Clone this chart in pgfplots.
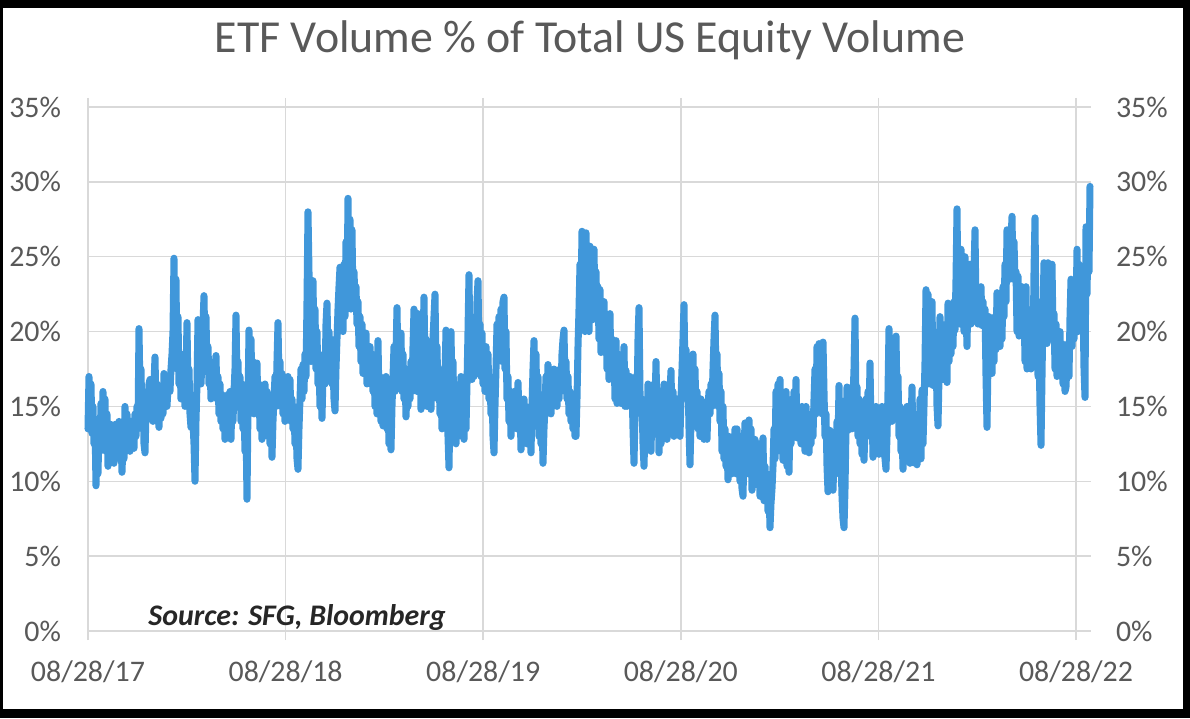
\documentclass[border=0pt]{standalone}
\usepackage{fontspec}
\setmainfont{Carlito}
\usepackage{pgfplots}
\pgfplotsset{compat=1.18}
\usepackage{pgfplotstable}
\definecolor{etfblue}{RGB}{64,151,218}
\definecolor{gridgrey}{RGB}{217,217,217}
\definecolor{labgrey}{RGB}{89,89,89}
\definecolor{srcgrey}{RGB}{38,38,38}
% px = horizontal position (197.6 per year, 88 = 08/28/17), v = ETF share of volume in %
\pgfplotstableread{
px v
88 13.5
89 17.0
90 14.0
91 16.5
92 13.2
93 15.0
94 12.5
95 14.0
96 9.7
97 12.0
98 10.5
99 13.5
100 12.0
101 15.2
102 13.0
103 16.0
104 13.5
105 15.5
106 12.0
107 14.5
108 11.0
109 13.5
110 11.5
111 13.8
112 12.0
113 13.6
114 11.2
115 13.8
116 11.8
117 13.5
118 12.5
119 14.0
120 11.5
121 13.0
122 10.6
123 12.5
124 11.5
125 15.0
126 12.0
127 14.5
128 12.5
129 14.0
130 12.0
131 14.0
132 12.8
133 13.8
134 12.2
135 14.5
136 13.0
137 15.0
138 13.5
139 20.2
140 16.0
141 17.5
142 14.0
143 16.0
144 12.5
145 11.9
146 14.5
147 16.0
148 14.8
149 16.5
150 16.8
151 14.5
152 15.5
153 14.0
154 16.5
155 18.3
156 15.0
157 16.5
158 14.5
159 13.6
160 15.5
161 14.2
162 16.0
163 14.5
164 17.2
165 15.5
166 16.8
167 15.0
168 16.2
169 17.0
170 16.0
171 17.5
172 18.5
173 20.0
174 24.9
175 19.0
176 23.5
177 17.5
178 21.0
179 16.5
180 18.5
181 15.5
182 17.5
183 16.0
184 18.5
185 15.0
186 17.0
187 20.6
188 16.0
189 17.5
190 14.5
191 13.6
192 15.5
193 14.0
194 12.5
195 10.0
196 14.0
197 16.5
198 20.8
199 17.0
200 19.5
201 16.5
202 18.0
203 20.5
204 22.4
205 18.5
206 21.0
207 17.5
208 19.0
209 16.5
210 18.0
211 15.5
212 17.0
213 16.0
214 17.5
215 16.5
216 18.4
217 15.5
218 17.0
219 14.5
220 16.5
221 14.0
222 15.8
223 13.5
224 15.5
225 12.8
226 14.5
227 13.0
228 15.8
229 13.5
230 16.0
231 12.8
232 15.5
233 14.0
234 16.0
235 17.5
236 21.1
237 16.5
238 18.0
239 15.0
240 17.0
241 14.0
242 16.5
243 13.5
244 15.0
245 12.0
246 14.0
247 8.8
248 15.0
249 20.1
250 17.0
251 19.5
252 16.0
253 18.0
254 14.5
255 17.0
256 15.0
257 17.9
258 14.5
259 16.5
260 13.5
261 15.5
262 12.8
263 15.0
264 13.5
265 16.5
266 14.5
267 16.0
268 13.0
269 15.5
270 12.5
271 14.5
272 11.6
273 14.0
274 15.5
275 17.0
276 15.0
277 18.0
278 20.6
279 16.5
280 18.0
281 15.0
282 17.2
283 14.5
284 16.5
285 14.0
286 16.0
287 14.5
288 17.0
289 15.0
290 16.8
291 14.0
292 15.5
293 13.5
294 15.0
295 12.5
296 14.0
297 11.5
298 10.8
299 13.5
300 15.5
301 17.5
302 15.5
303 17.8
304 16.0
305 18.5
306 17.0
307 22.0
308 28.0
309 24.0
310 20.0
311 18.0
312 21.0
313 23.4
314 19.0
315 21.5
316 17.5
317 20.0
318 16.5
319 18.0
320 15.0
321 16.5
322 14.2
323 17.0
324 18.5
325 16.5
326 20.5
327 21.9
328 18.5
329 20.0
330 17.5
331 19.5
332 16.5
333 18.0
334 15.5
335 14.7
336 17.5
337 19.5
338 21.5
339 23.0
340 24.3
341 20.5
342 23.5
343 20.0
344 24.5
345 21.0
346 26.0
347 22.0
348 28.9
349 23.0
350 27.5
351 21.5
352 26.8
353 22.0
354 24.0
355 22.1
356 23.0
357 20.5
358 22.0
359 19.0
360 21.0
361 18.0
362 20.5
363 17.2
364 19.5
365 17.5
366 19.9
367 16.5
368 18.5
369 17.0
370 19.0
371 16.5
372 18.5
373 16.0
374 18.0
375 15.0
376 17.5
377 14.5
378 19.4
379 15.5
380 17.0
381 14.0
382 16.5
383 13.7
384 16.0
385 14.5
386 17.0
387 13.5
388 15.5
389 12.5
390 14.5
391 12.1
392 15.0
393 17.0
394 19.0
395 16.0
396 18.5
397 21.6
398 17.5
399 19.5
400 16.5
401 19.9
402 16.0
403 18.5
404 15.5
405 17.5
406 14.3
407 16.0
408 15.0
409 17.5
410 15.5
411 18.0
412 16.0
413 19.0
414 21.5
415 17.5
416 20.0
417 16.0
418 21.2
419 17.0
420 19.5
421 14.8
422 17.5
423 19.0
424 22.3
425 17.5
426 19.5
427 15.0
428 17.5
429 15.5
430 18.0
431 14.8
432 17.0
433 19.5
434 21.0
435 22.5
436 17.5
437 19.0
438 15.5
439 17.5
440 14.5
441 16.5
442 13.5
443 16.0
444 14.0
445 17.0
446 20.1
447 15.0
448 13.0
449 10.9
450 15.0
451 20.0
452 16.0
453 18.0
454 14.0
455 16.5
456 12.5
457 15.0
458 13.0
459 16.0
460 14.0
461 17.0
462 13.5
463 15.5
464 12.8
465 15.0
466 13.5
467 16.5
468 20.0
469 23.8
470 18.5
471 20.5
472 16.8
473 19.0
474 17.0
475 21.0
476 18.0
477 22.0
478 23.4
479 18.5
480 20.5
481 17.0
482 19.9
483 16.5
484 18.5
485 16.0
486 19.0
487 17.0
488 18.5
489 15.5
490 17.0
491 14.5
492 16.5
493 13.0
494 11.9
495 15.0
496 17.5
497 20.5
498 18.5
499 21.0
500 19.0
501 21.5
502 18.0
503 22.0
504 22.3
505 17.5
506 20.0
507 15.5
508 17.0
509 14.0
510 16.0
511 13.0
512 15.0
513 14.5
514 16.0
515 14.0
516 15.5
517 13.5
518 16.6
519 14.5
520 15.5
521 12.1
522 14.5
523 13.0
524 15.5
525 13.5
526 15.0
527 12.5
528 14.0
529 12.5
530 14.5
531 11.9
532 15.0
533 17.5
534 19.4
535 16.0
536 18.5
537 14.5
538 17.0
539 13.0
540 15.5
541 12.5
542 14.5
543 11.2
544 13.5
545 15.0
546 17.0
547 15.5
548 17.8
549 15.0
550 17.0
551 14.5
552 16.5
553 15.0
554 17.5
555 15.5
556 17.0
557 15.0
558 16.5
559 15.5
560 17.5
561 16.0
562 18.5
563 19.5
564 20.1
565 16.5
566 18.0
567 15.5
568 17.0
569 14.5
570 16.0
571 14.0
572 15.5
573 13.5
574 14.5
575 13.0
576 13.0
577 15.5
578 19.0
579 21.5
580 24.5
581 22.0
582 26.7
583 20.5
584 25.5
585 20.0
586 26.6
587 21.0
588 24.0
589 20.0
590 25.7
591 21.0
592 24.5
593 20.8
594 25.5
595 21.5
596 24.0
597 21.0
598 23.0
599 19.5
600 22.8
601 18.6
602 21.5
603 19.0
604 22.0
605 18.8
606 21.0
607 17.5
608 20.5
609 16.8
610 21.2
611 17.0
612 19.5
613 16.8
614 19.0
615 15.5
616 19.4
617 15.2
618 18.5
619 16.0
620 18.0
621 15.2
622 17.5
623 15.5
624 19.0
625 15.0
626 17.4
627 15.0
628 16.5
629 15.5
630 17.0
631 15.0
632 16.5
633 13.5
634 11.2
635 14.5
636 17.0
637 15.0
638 19.5
639 21.6
640 16.0
641 14.5
642 15.5
643 12.5
644 11.0
645 13.5
646 15.0
647 13.0
648 16.5
649 14.5
650 16.0
651 12.0
652 15.0
653 14.0
654 16.5
655 15.0
656 18.0
657 14.5
658 16.0
659 11.9
660 14.5
661 12.5
662 16.0
663 13.0
664 16.5
665 13.0
666 15.5
667 12.8
668 15.5
669 14.0
670 16.0
671 17.4
672 14.0
673 16.0
674 13.0
675 15.0
676 13.5
677 15.5
678 13.5
679 15.0
680 13.0
681 15.5
682 17.5
683 19.5
684 21.8
685 17.0
686 18.8
687 15.5
688 17.0
689 13.5
690 11.1
691 14.0
692 16.5
693 18.5
694 15.0
695 17.5
696 14.5
697 16.0
698 13.5
699 15.5
700 13.0
701 15.5
702 13.5
703 15.0
704 12.8
705 14.0
706 13.5
707 12.8
708 15.0
709 16.0
710 14.5
711 16.5
712 15.0
713 17.5
714 19.5
715 21.1
716 17.0
717 18.5
718 15.0
719 17.2
720 14.0
721 16.0
722 12.0
723 15.0
724 11.5
725 13.5
726 11.0
727 12.5
728 10.1
729 13.0
730 10.8
731 12.5
732 10.5
733 13.0
734 11.0
735 13.5
736 10.5
737 13.5
738 11.0
739 12.5
740 10.0
741 13.0
742 9.5
743 9.0
744 12.0
745 13.9
746 11.5
747 13.0
748 10.5
749 14.1
750 11.0
751 13.5
752 9.4
753 12.5
754 10.5
755 12.8
756 9.8
757 12.0
758 10.0
759 12.5
760 9.0
761 11.5
762 9.5
763 12.9
764 8.7
765 11.0
766 9.0
767 10.5
768 8.0
769 9.5
770 6.9
771 8.5
772 9.5
773 11.0
774 13.5
775 11.5
776 16.0
777 12.0
778 16.5
779 13.0
780 16.8
781 12.5
782 15.5
783 11.4
784 14.5
785 12.0
786 16.0
787 11.0
788 13.5
789 10.6
790 14.0
791 12.5
792 15.5
793 13.0
794 16.0
795 14.0
796 16.8
797 12.9
798 15.0
799 13.5
800 14.5
801 12.5
802 15.0
803 13.5
804 14.0
805 12.0
806 15.0
807 13.0
808 14.5
809 11.9
810 13.5
811 12.5
812 14.0
813 13.0
814 15.5
815 17.5
816 14.5
817 19.0
818 15.0
819 19.2
820 15.5
821 17.5
822 14.5
823 19.3
824 16.0
825 13.0
826 14.5
827 11.0
828 9.3
829 12.0
830 13.4
831 10.0
832 12.5
833 9.4
834 11.5
835 13.0
836 10.5
837 14.0
838 12.5
839 16.4
840 13.0
841 11.5
842 9.0
843 7.5
844 6.9
845 9.5
846 13.5
847 16.3
848 13.4
849 15.5
850 14.0
851 16.0
852 13.5
853 15.5
854 17.5
855 20.9
856 15.0
857 16.3
858 13.0
859 15.5
860 12.5
861 14.5
862 11.8
863 14.0
864 11.4
865 13.5
866 15.5
867 13.0
868 16.0
869 14.0
870 17.9
871 13.5
872 15.0
873 11.6
874 14.0
875 12.0
876 15.0
877 12.5
878 14.5
879 11.8
880 14.0
881 12.5
882 15.0
883 12.0
884 14.0
885 11.5
886 10.8
887 13.0
888 16.0
889 20.2
890 15.5
891 17.0
892 14.0
893 16.5
894 19.5
895 15.0
896 19.7
897 15.5
898 17.0
899 13.0
900 15.0
901 12.0
902 13.5
903 10.8
904 13.0
905 14.5
906 12.5
907 15.0
908 11.5
909 14.0
910 11.2
911 13.5
912 16.3
913 12.0
914 14.5
915 11.2
916 13.0
917 11.1
918 14.0
919 12.0
920 15.5
921 11.5
922 16.1
923 12.5
924 15.0
925 18.0
926 22.8
927 17.5
928 22.5
929 16.5
930 21.5
931 17.0
932 22.0
933 16.4
934 20.0
935 17.0
936 19.0
937 15.0
938 13.7
939 17.0
940 21.0
941 17.5
942 20.5
943 16.8
944 20.0
945 17.0
946 19.5
947 16.6
948 21.9
949 18.0
950 20.5
951 18.5
952 21.0
953 19.0
954 22.0
955 20.1
956 23.5
957 28.2
958 22.0
959 24.5
960 20.5
961 25.5
962 21.0
963 24.0
964 20.0
965 25.0
966 21.5
967 19.0
968 23.0
969 21.0
970 24.5
971 20.5
972 23.5
973 21.0
974 24.0
975 26.8
976 21.5
977 23.0
978 20.5
979 22.5
980 20.8
981 23.0
982 20.4
983 22.0
984 20.5
985 21.5
986 17.0
987 13.6
988 18.0
989 21.0
990 17.5
991 20.5
992 17.2
993 20.0
994 18.0
995 21.0
996 18.8
997 22.6
998 19.5
999 22.0
1000 19.0
1001 21.5
1002 19.5
1003 23.0
1004 21.0
1005 24.5
1006 22.0
1007 26.8
1008 23.5
1009 25.5
1010 23.5
1011 26.0
1012 27.7
1013 23.5
1014 26.0
1015 23.5
1016 24.0
1017 20.0
1018 23.7
1019 19.7
1020 22.5
1021 20.0
1022 23.0
1023 19.7
1024 22.0
1025 18.0
1026 23.0
1027 17.5
1028 21.5
1029 18.5
1030 20.5
1031 17.5
1032 21.0
1033 18.0
1034 24.0
1035 27.6
1036 20.0
1037 22.0
1038 17.0
1039 19.0
1040 15.0
1041 12.4
1042 17.0
1043 21.5
1044 24.6
1045 19.5
1046 23.5
1047 19.2
1048 24.6
1049 20.0
1050 23.0
1051 19.5
1052 24.5
1053 20.0
1054 21.2
1055 17.5
1056 20.5
1057 17.0
1058 19.5
1059 17.5
1060 20.0
1061 17.0
1062 19.2
1063 16.5
1064 18.5
1065 16.0
1066 16.3
1067 18.0
1068 19.2
1069 17.0
1070 21.0
1071 23.5
1072 19.0
1073 22.0
1074 19.5
1075 23.0
1076 21.0
1077 25.5
1078 20.0
1079 24.5
1080 21.0
1081 24.0
1082 20.0
1083 22.0
1084 17.5
1085 15.6
1086 27.0
1087 22.5
1088 26.5
1089 24.0
1090 29.7
}\etfdata

\begin{document}
\begin{tikzpicture}[x=1bp,y=1bp]
\fill[black] (0,0) rectangle (595,359);
\fill[white] (1.5,4.5) rectangle (591.5,355);
\node[anchor=base, text=labgrey, font=\fontsize{23}{27}\selectfont, inner sep=0pt] at (295,333) {ETF Volume \% of Total US Equity Volume};
\begin{axis}[
  at={(43.5bp,43.5bp)}, anchor=south west,
  scale only axis, width=502bp, height=262bp,
  xmin=-0.005, xmax=5.076, ymin=0, ymax=35,
  xtick={0,1,2,3,4,5},
  xticklabels={08/28/17,08/28/18,08/28/19,08/28/20,08/28/21,08/28/22},
  ytick={0,5,...,35},
  yticklabel={\pgfmathprintnumber{\tick}\%},
  /pgf/number format/assume math mode=true,
  axis line style={draw=none},
  grid=major,
  major grid style={draw=gridgrey, line width=0.75bp},
  tick align=outside, major tick length=4.5bp,
  xtick style={draw=gridgrey, line width=0.75bp},
  ytick style={draw=none},
  tick label style={font=\fontsize{15}{18}\selectfont, text=labgrey},
  xticklabel style={yshift=-7bp},
  yticklabel style={xshift=-5bp},
  clip=false,
]
\addplot[etfblue, line width=3.5bp, line join=round, line cap=round, mark=none]
  table[x expr={(\thisrow{px}-88)/197.6}, y=v] {\etfdata};
\end{axis}
\begin{axis}[
  at={(43.5bp,43.5bp)}, anchor=south west,
  scale only axis, width=502bp, height=262bp,
  xmin=-0.005, xmax=5.076, ymin=0, ymax=35,
  hide x axis,
  axis y line*=right,
  y axis line style={draw=none},
  ytick={0,5,...,35},
  yticklabel={\pgfmathprintnumber{\tick}\%},
  /pgf/number format/assume math mode=true,
  ytick style={draw=none},
  tick align=outside, major tick length=4.5bp,
  tick label style={font=\fontsize{15}{18}\selectfont, text=labgrey},
  yticklabel style={xshift=4.5bp},
]
\end{axis}
\node[anchor=base west, text=srcgrey, font=\fontsize{15}{18}\selectfont\bfseries\itshape, inner sep=0pt] at (74,46.5) {Source: SFG, Bloomberg};
\end{tikzpicture}
\end{document}
